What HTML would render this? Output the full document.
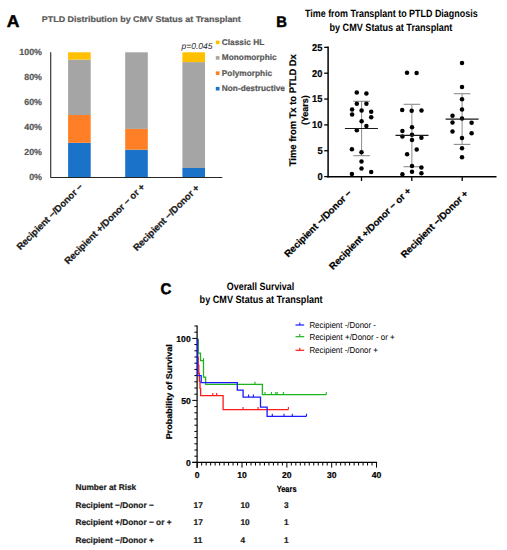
<!DOCTYPE html>
<html><head><meta charset="utf-8"><style>
html,body{margin:0;padding:0;background:#fff;}
body{width:507px;height:550px;overflow:hidden;}
svg{display:block;font-family:"Liberation Sans", sans-serif;text-rendering:geometricPrecision;}
</style></head><body>
<svg width="507" height="550" viewBox="0 0 507 550">
<rect width="507" height="550" fill="#fff"/>
<text x="6.8" y="26.9" font-size="17.0" font-weight="bold" font-style="normal" fill="#000" text-anchor="start" textLength="12.7" lengthAdjust="spacingAndGlyphs" stroke="#000" stroke-width="0.45">A</text>
<text x="41.8" y="21.7" font-size="8.4" font-weight="bold" font-style="normal" fill="#595959" text-anchor="start" textLength="199" lengthAdjust="spacingAndGlyphs" stroke="#595959" stroke-width="0.2">PTLD Distribution by CMV Status at Transplant</text>
<text x="42.0" y="180.4" font-size="8.9" font-weight="bold" font-style="normal" fill="#595959" text-anchor="end" stroke="#595959" stroke-width="0.2">0%</text>
<text x="42.0" y="155.4" font-size="8.9" font-weight="bold" font-style="normal" fill="#595959" text-anchor="end" stroke="#595959" stroke-width="0.2">20%</text>
<text x="42.0" y="130.4" font-size="8.9" font-weight="bold" font-style="normal" fill="#595959" text-anchor="end" stroke="#595959" stroke-width="0.2">40%</text>
<text x="42.0" y="105.4" font-size="8.9" font-weight="bold" font-style="normal" fill="#595959" text-anchor="end" stroke="#595959" stroke-width="0.2">60%</text>
<text x="42.0" y="80.4" font-size="8.9" font-weight="bold" font-style="normal" fill="#595959" text-anchor="end" stroke="#595959" stroke-width="0.2">80%</text>
<text x="42.0" y="55.4" font-size="8.9" font-weight="bold" font-style="normal" fill="#595959" text-anchor="end" stroke="#595959" stroke-width="0.2">100%</text>
<rect x="68.1" y="142.8" width="22.6" height="34.6" fill="#1a72c9"/>
<rect x="68.1" y="115.0" width="22.6" height="27.8" fill="#ff7f27"/>
<rect x="68.1" y="59.6" width="22.6" height="55.4" fill="#a5a5a5"/>
<rect x="68.1" y="52.3" width="22.6" height="7.3" fill="#ffc000"/>
<rect x="125.2" y="149.7" width="22.6" height="27.7" fill="#1a72c9"/>
<rect x="125.2" y="128.9" width="22.6" height="20.8" fill="#ff7f27"/>
<rect x="125.2" y="52.3" width="22.6" height="76.6" fill="#a5a5a5"/>
<rect x="182.4" y="168.0" width="22.6" height="9.4" fill="#1a72c9"/>
<rect x="182.4" y="62.1" width="22.6" height="105.9" fill="#a5a5a5"/>
<rect x="182.4" y="52.3" width="22.6" height="9.8" fill="#ffc000"/>
<line x1="50.7" y1="52.3" x2="50.7" y2="177.5" stroke="#303030" stroke-width="1.15"/>
<line x1="50.4" y1="177.5" x2="222.3" y2="177.5" stroke="#262626" stroke-width="1.2"/>
<text x="181.6" y="49.2" font-size="8.5" font-weight="normal" font-style="italic" fill="#262626" text-anchor="start" textLength="30.9" lengthAdjust="spacingAndGlyphs">p=0.045</text>
<rect x="215.8" y="40.6" width="3.7" height="3.6" fill="#ffc000"/>
<text x="221.8" y="44.9" font-size="8.3" font-weight="bold" font-style="normal" fill="#595959" text-anchor="start" stroke="#595959" stroke-width="0.2">Classic HL</text>
<rect x="215.8" y="56.1" width="3.7" height="3.6" fill="#a5a5a5"/>
<text x="221.8" y="60.4" font-size="8.3" font-weight="bold" font-style="normal" fill="#595959" text-anchor="start" stroke="#595959" stroke-width="0.2">Monomorphic</text>
<rect x="215.8" y="71.4" width="3.7" height="3.6" fill="#ff7f27"/>
<text x="221.8" y="75.7" font-size="8.3" font-weight="bold" font-style="normal" fill="#595959" text-anchor="start" stroke="#595959" stroke-width="0.2">Polymorphic</text>
<rect x="215.8" y="86.9" width="3.7" height="3.6" fill="#1a72c9"/>
<text x="221.8" y="91.2" font-size="8.3" font-weight="bold" font-style="normal" fill="#595959" text-anchor="start" stroke="#595959" stroke-width="0.2">Non-destructive</text>
<text transform="translate(83.5,187.5) rotate(-45)" x="0" y="0" font-size="9.45" font-weight="bold" fill="#1a1a1a" text-anchor="end" stroke="#1a1a1a" stroke-width="0.25">Recipient &#8722;/Donor &#8722;</text>
<text transform="translate(145.5,187.5) rotate(-45)" x="0" y="0" font-size="9.45" font-weight="bold" fill="#1a1a1a" text-anchor="end" stroke="#1a1a1a" stroke-width="0.25">Recipient +/Donor &#8722; or +</text>
<text transform="translate(200,188.5) rotate(-45)" x="0" y="0" font-size="9.45" font-weight="bold" fill="#1a1a1a" text-anchor="end" stroke="#1a1a1a" stroke-width="0.25">Recipient &#8722;/Donor +</text>
<text x="276.2" y="26.6" font-size="15.3" font-weight="bold" font-style="normal" fill="#000" text-anchor="start" textLength="10.7" lengthAdjust="spacingAndGlyphs" stroke="#000" stroke-width="0.5">B</text>
<text x="391.3" y="17.4" font-size="10.6" font-weight="bold" font-style="normal" fill="#000" text-anchor="middle" textLength="172.7" lengthAdjust="spacingAndGlyphs">Time from Transplant to PTLD Diagnosis</text>
<text x="390.9" y="30.8" font-size="10.6" font-weight="bold" font-style="normal" fill="#000" text-anchor="middle" textLength="123" lengthAdjust="spacingAndGlyphs">by CMV Status at Transplant</text>
<line x1="328.1" y1="46.6" x2="328.1" y2="177.4" stroke="#000" stroke-width="1.5"/>
<line x1="327.4" y1="176.7" x2="496.5" y2="176.7" stroke="#000" stroke-width="1.6"/>
<line x1="324.2" y1="176.6" x2="328.1" y2="176.6" stroke="#000" stroke-width="1.3"/>
<text x="322.8" y="180.0" font-size="9.9" font-weight="bold" font-style="normal" fill="#000" text-anchor="end" textLength="5.2" lengthAdjust="spacingAndGlyphs" stroke="#000" stroke-width="0.2">0</text>
<line x1="324.2" y1="150.75" x2="328.1" y2="150.75" stroke="#000" stroke-width="1.3"/>
<text x="322.8" y="154.15" font-size="9.9" font-weight="bold" font-style="normal" fill="#000" text-anchor="end" textLength="5.2" lengthAdjust="spacingAndGlyphs" stroke="#000" stroke-width="0.2">5</text>
<line x1="324.2" y1="124.9" x2="328.1" y2="124.9" stroke="#000" stroke-width="1.3"/>
<text x="322.3" y="128.3" font-size="9.9" font-weight="bold" font-style="normal" fill="#000" text-anchor="end" textLength="10.3" lengthAdjust="spacingAndGlyphs" stroke="#000" stroke-width="0.2">10</text>
<line x1="324.2" y1="99.05" x2="328.1" y2="99.05" stroke="#000" stroke-width="1.3"/>
<text x="322.3" y="102.45" font-size="9.9" font-weight="bold" font-style="normal" fill="#000" text-anchor="end" textLength="10.3" lengthAdjust="spacingAndGlyphs" stroke="#000" stroke-width="0.2">15</text>
<line x1="324.2" y1="73.2" x2="328.1" y2="73.2" stroke="#000" stroke-width="1.3"/>
<text x="322.3" y="76.6" font-size="9.9" font-weight="bold" font-style="normal" fill="#000" text-anchor="end" textLength="10.3" lengthAdjust="spacingAndGlyphs" stroke="#000" stroke-width="0.2">20</text>
<line x1="324.2" y1="47.35" x2="328.1" y2="47.35" stroke="#000" stroke-width="1.3"/>
<text x="322.3" y="50.75" font-size="9.9" font-weight="bold" font-style="normal" fill="#000" text-anchor="end" textLength="10.3" lengthAdjust="spacingAndGlyphs" stroke="#000" stroke-width="0.2">25</text>
<line x1="361.5" y1="176.7" x2="361.5" y2="181" stroke="#000" stroke-width="1.3"/>
<line x1="411.8" y1="176.7" x2="411.8" y2="181" stroke="#000" stroke-width="1.3"/>
<line x1="462.2" y1="176.7" x2="462.2" y2="181" stroke="#000" stroke-width="1.3"/>
<text transform="translate(296.3,110.2) rotate(-90)" font-size="9.6" font-weight="bold" text-anchor="middle" stroke="#000" stroke-width="0.2" textLength="112" lengthAdjust="spacingAndGlyphs">Time from Tx to PTLD Dx</text>
<text transform="translate(307.6,110.2) rotate(-90)" font-size="9.2" font-weight="bold" text-anchor="middle" stroke="#000" stroke-width="0.2" textLength="29.8" lengthAdjust="spacingAndGlyphs">(Years)</text>
<line x1="361.6" y1="101.3" x2="361.6" y2="155.7" stroke="#8c8c8c" stroke-width="1"/>
<line x1="353.3" y1="101.3" x2="369.90000000000003" y2="101.3" stroke="#8c8c8c" stroke-width="1.1"/>
<line x1="353.3" y1="155.7" x2="369.90000000000003" y2="155.7" stroke="#8c8c8c" stroke-width="1.1"/>
<line x1="411.9" y1="104.3" x2="411.9" y2="166.7" stroke="#8c8c8c" stroke-width="1"/>
<line x1="403.59999999999997" y1="104.3" x2="420.2" y2="104.3" stroke="#8c8c8c" stroke-width="1.1"/>
<line x1="403.59999999999997" y1="166.7" x2="420.2" y2="166.7" stroke="#8c8c8c" stroke-width="1.1"/>
<line x1="462.1" y1="93.7" x2="462.1" y2="144.4" stroke="#8c8c8c" stroke-width="1"/>
<line x1="453.8" y1="93.7" x2="470.40000000000003" y2="93.7" stroke="#8c8c8c" stroke-width="1.1"/>
<line x1="453.8" y1="144.4" x2="470.40000000000003" y2="144.4" stroke="#8c8c8c" stroke-width="1.1"/>
<circle cx="356.8" cy="92.6" r="2.25" fill="#000"/>
<circle cx="366.4" cy="93.6" r="2.25" fill="#000"/>
<circle cx="356.8" cy="103.8" r="2.25" fill="#000"/>
<circle cx="366.4" cy="103.8" r="2.25" fill="#000"/>
<circle cx="352.1" cy="109.4" r="2.25" fill="#000"/>
<circle cx="361.6" cy="110.4" r="2.25" fill="#000"/>
<circle cx="371.2" cy="111.8" r="2.25" fill="#000"/>
<circle cx="352.1" cy="114.5" r="2.25" fill="#000"/>
<circle cx="371.2" cy="117.3" r="2.25" fill="#000"/>
<circle cx="361.6" cy="121.3" r="2.25" fill="#000"/>
<circle cx="366.4" cy="126.1" r="2.25" fill="#000"/>
<circle cx="356.8" cy="130.3" r="2.25" fill="#000"/>
<circle cx="351.9" cy="149.3" r="2.25" fill="#000"/>
<circle cx="361.5" cy="152.2" r="2.25" fill="#000"/>
<circle cx="361.5" cy="161.4" r="2.25" fill="#000"/>
<circle cx="361.5" cy="168.5" r="2.25" fill="#000"/>
<circle cx="351.9" cy="174.1" r="2.25" fill="#000"/>
<circle cx="371.2" cy="171.9" r="2.25" fill="#000"/>
<circle cx="407" cy="72.7" r="2.25" fill="#000"/>
<circle cx="416.6" cy="73" r="2.25" fill="#000"/>
<circle cx="402.2" cy="110" r="2.25" fill="#000"/>
<circle cx="411.7" cy="110.7" r="2.25" fill="#000"/>
<circle cx="421.5" cy="110.5" r="2.25" fill="#000"/>
<circle cx="412" cy="127.3" r="2.25" fill="#000"/>
<circle cx="402.4" cy="130.9" r="2.25" fill="#000"/>
<circle cx="412" cy="134.8" r="2.25" fill="#000"/>
<circle cx="402.4" cy="136.6" r="2.25" fill="#000"/>
<circle cx="421.4" cy="137.7" r="2.25" fill="#000"/>
<circle cx="412" cy="140.1" r="2.25" fill="#000"/>
<circle cx="416.7" cy="149.6" r="2.25" fill="#000"/>
<circle cx="407.1" cy="154.3" r="2.25" fill="#000"/>
<circle cx="412" cy="165.9" r="2.25" fill="#000"/>
<circle cx="421.4" cy="167.5" r="2.25" fill="#000"/>
<circle cx="412" cy="171.8" r="2.25" fill="#000"/>
<circle cx="421.4" cy="173.2" r="2.25" fill="#000"/>
<circle cx="402.4" cy="174.2" r="2.25" fill="#000"/>
<circle cx="462" cy="63.1" r="2.25" fill="#000"/>
<circle cx="462" cy="86.9" r="2.25" fill="#000"/>
<circle cx="462" cy="99.2" r="2.25" fill="#000"/>
<circle cx="462" cy="109.5" r="2.25" fill="#000"/>
<circle cx="452.5" cy="115.8" r="2.25" fill="#000"/>
<circle cx="462" cy="118.6" r="2.25" fill="#000"/>
<circle cx="452.5" cy="122.6" r="2.25" fill="#000"/>
<circle cx="471.6" cy="122.8" r="2.25" fill="#000"/>
<circle cx="452.5" cy="131.5" r="2.25" fill="#000"/>
<circle cx="471.6" cy="133.2" r="2.25" fill="#000"/>
<circle cx="462" cy="138.1" r="2.25" fill="#000"/>
<circle cx="462" cy="148.3" r="2.25" fill="#000"/>
<circle cx="462" cy="157.2" r="2.25" fill="#000"/>
<line x1="344.9" y1="128.5" x2="377.9" y2="128.5" stroke="#1a1a1a" stroke-width="1.2"/>
<line x1="395.5" y1="135.4" x2="428.5" y2="135.4" stroke="#1a1a1a" stroke-width="1.2"/>
<line x1="445.6" y1="119.1" x2="478.6" y2="119.1" stroke="#1a1a1a" stroke-width="1.2"/>
<text transform="translate(352.3,193.7) rotate(-45)" x="0" y="0" font-size="9.6" font-weight="bold" fill="#000" text-anchor="end" stroke="#000" stroke-width="0.25">Recipient &#8722;/Donor &#8722;</text>
<text transform="translate(411.6,191.6) rotate(-45)" x="0" y="0" font-size="9.6" font-weight="bold" fill="#000" text-anchor="end" stroke="#000" stroke-width="0.25">Recipient +/Donor &#8722; or +</text>
<text transform="translate(468.8,194.3) rotate(-45)" x="0" y="0" font-size="9.6" font-weight="bold" fill="#000" text-anchor="end" stroke="#000" stroke-width="0.25">Recipient &#8722;/Donor +</text>
<text x="160.4" y="294.0" font-size="15.3" font-weight="bold" font-style="normal" fill="#000" text-anchor="start" textLength="10.9" lengthAdjust="spacingAndGlyphs" stroke="#000" stroke-width="0.5">C</text>
<text x="260.5" y="290.4" font-size="10.6" font-weight="bold" font-style="normal" fill="#000" text-anchor="middle" textLength="67.5" lengthAdjust="spacingAndGlyphs">Overall Survival</text>
<text x="261.1" y="302.8" font-size="10.6" font-weight="bold" font-style="normal" fill="#000" text-anchor="middle" textLength="123" lengthAdjust="spacingAndGlyphs">by CMV Status at Transplant</text>
<line x1="197.1" y1="325.6" x2="197.1" y2="467.9" stroke="#000" stroke-width="1.2"/>
<line x1="192.3" y1="462.4" x2="197.1" y2="462.4" stroke="#000" stroke-width="1"/>
<line x1="194.4" y1="456.2" x2="197.1" y2="456.2" stroke="#000" stroke-width="1"/>
<line x1="194.4" y1="450.0" x2="197.1" y2="450.0" stroke="#000" stroke-width="1"/>
<line x1="194.4" y1="443.8" x2="197.1" y2="443.8" stroke="#000" stroke-width="1"/>
<line x1="194.4" y1="437.6" x2="197.1" y2="437.6" stroke="#000" stroke-width="1"/>
<line x1="194.4" y1="431.4" x2="197.1" y2="431.4" stroke="#000" stroke-width="1"/>
<line x1="194.4" y1="425.2" x2="197.1" y2="425.2" stroke="#000" stroke-width="1"/>
<line x1="194.4" y1="419.0" x2="197.1" y2="419.0" stroke="#000" stroke-width="1"/>
<line x1="194.4" y1="412.8" x2="197.1" y2="412.8" stroke="#000" stroke-width="1"/>
<line x1="194.4" y1="406.6" x2="197.1" y2="406.6" stroke="#000" stroke-width="1"/>
<line x1="192.3" y1="400.4" x2="197.1" y2="400.4" stroke="#000" stroke-width="1"/>
<line x1="194.4" y1="394.2" x2="197.1" y2="394.2" stroke="#000" stroke-width="1"/>
<line x1="194.4" y1="388.0" x2="197.1" y2="388.0" stroke="#000" stroke-width="1"/>
<line x1="194.4" y1="381.8" x2="197.1" y2="381.8" stroke="#000" stroke-width="1"/>
<line x1="194.4" y1="375.6" x2="197.1" y2="375.6" stroke="#000" stroke-width="1"/>
<line x1="194.4" y1="369.4" x2="197.1" y2="369.4" stroke="#000" stroke-width="1"/>
<line x1="194.4" y1="363.2" x2="197.1" y2="363.2" stroke="#000" stroke-width="1"/>
<line x1="194.4" y1="357.0" x2="197.1" y2="357.0" stroke="#000" stroke-width="1"/>
<line x1="194.4" y1="350.8" x2="197.1" y2="350.8" stroke="#000" stroke-width="1"/>
<line x1="194.4" y1="344.6" x2="197.1" y2="344.6" stroke="#000" stroke-width="1"/>
<line x1="192.3" y1="338.4" x2="197.1" y2="338.4" stroke="#000" stroke-width="1"/>
<line x1="194.4" y1="332.2" x2="197.1" y2="332.2" stroke="#000" stroke-width="1"/>
<line x1="194.4" y1="326.0" x2="197.1" y2="326.0" stroke="#000" stroke-width="1"/>
<text x="190.7" y="465.6" font-size="8.6" font-weight="bold" font-style="normal" fill="#000" text-anchor="end" stroke="#000" stroke-width="0.2">0</text>
<text x="190.7" y="403.6" font-size="8.6" font-weight="bold" font-style="normal" fill="#000" text-anchor="end" stroke="#000" stroke-width="0.2">50</text>
<text x="190.7" y="341.6" font-size="8.6" font-weight="bold" font-style="normal" fill="#000" text-anchor="end" stroke="#000" stroke-width="0.2">100</text>
<line x1="192.3" y1="462.4" x2="377.1" y2="462.4" stroke="#000" stroke-width="1.2"/>
<line x1="197.2" y1="462.4" x2="197.2" y2="467.6" stroke="#000" stroke-width="1"/>
<line x1="201.68" y1="462.4" x2="201.68" y2="465.5" stroke="#000" stroke-width="1"/>
<line x1="206.17" y1="462.4" x2="206.17" y2="465.5" stroke="#000" stroke-width="1"/>
<line x1="210.65" y1="462.4" x2="210.65" y2="465.5" stroke="#000" stroke-width="1"/>
<line x1="215.13" y1="462.4" x2="215.13" y2="465.5" stroke="#000" stroke-width="1"/>
<line x1="219.61" y1="462.4" x2="219.61" y2="465.5" stroke="#000" stroke-width="1"/>
<line x1="224.1" y1="462.4" x2="224.1" y2="465.5" stroke="#000" stroke-width="1"/>
<line x1="228.58" y1="462.4" x2="228.58" y2="465.5" stroke="#000" stroke-width="1"/>
<line x1="233.06" y1="462.4" x2="233.06" y2="465.5" stroke="#000" stroke-width="1"/>
<line x1="237.55" y1="462.4" x2="237.55" y2="465.5" stroke="#000" stroke-width="1"/>
<line x1="242.03" y1="462.4" x2="242.03" y2="467.6" stroke="#000" stroke-width="1"/>
<line x1="246.51" y1="462.4" x2="246.51" y2="465.5" stroke="#000" stroke-width="1"/>
<line x1="251.0" y1="462.4" x2="251.0" y2="465.5" stroke="#000" stroke-width="1"/>
<line x1="255.48" y1="462.4" x2="255.48" y2="465.5" stroke="#000" stroke-width="1"/>
<line x1="259.96" y1="462.4" x2="259.96" y2="465.5" stroke="#000" stroke-width="1"/>
<line x1="264.44" y1="462.4" x2="264.44" y2="465.5" stroke="#000" stroke-width="1"/>
<line x1="268.93" y1="462.4" x2="268.93" y2="465.5" stroke="#000" stroke-width="1"/>
<line x1="273.41" y1="462.4" x2="273.41" y2="465.5" stroke="#000" stroke-width="1"/>
<line x1="277.89" y1="462.4" x2="277.89" y2="465.5" stroke="#000" stroke-width="1"/>
<line x1="282.38" y1="462.4" x2="282.38" y2="465.5" stroke="#000" stroke-width="1"/>
<line x1="286.86" y1="462.4" x2="286.86" y2="467.6" stroke="#000" stroke-width="1"/>
<line x1="291.34" y1="462.4" x2="291.34" y2="465.5" stroke="#000" stroke-width="1"/>
<line x1="295.83" y1="462.4" x2="295.83" y2="465.5" stroke="#000" stroke-width="1"/>
<line x1="300.31" y1="462.4" x2="300.31" y2="465.5" stroke="#000" stroke-width="1"/>
<line x1="304.79" y1="462.4" x2="304.79" y2="465.5" stroke="#000" stroke-width="1"/>
<line x1="309.27" y1="462.4" x2="309.27" y2="465.5" stroke="#000" stroke-width="1"/>
<line x1="313.76" y1="462.4" x2="313.76" y2="465.5" stroke="#000" stroke-width="1"/>
<line x1="318.24" y1="462.4" x2="318.24" y2="465.5" stroke="#000" stroke-width="1"/>
<line x1="322.72" y1="462.4" x2="322.72" y2="465.5" stroke="#000" stroke-width="1"/>
<line x1="327.21" y1="462.4" x2="327.21" y2="465.5" stroke="#000" stroke-width="1"/>
<line x1="331.69" y1="462.4" x2="331.69" y2="467.6" stroke="#000" stroke-width="1"/>
<line x1="336.17" y1="462.4" x2="336.17" y2="465.5" stroke="#000" stroke-width="1"/>
<line x1="340.66" y1="462.4" x2="340.66" y2="465.5" stroke="#000" stroke-width="1"/>
<line x1="345.14" y1="462.4" x2="345.14" y2="465.5" stroke="#000" stroke-width="1"/>
<line x1="349.62" y1="462.4" x2="349.62" y2="465.5" stroke="#000" stroke-width="1"/>
<line x1="354.11" y1="462.4" x2="354.11" y2="465.5" stroke="#000" stroke-width="1"/>
<line x1="358.59" y1="462.4" x2="358.59" y2="465.5" stroke="#000" stroke-width="1"/>
<line x1="363.07" y1="462.4" x2="363.07" y2="465.5" stroke="#000" stroke-width="1"/>
<line x1="367.55" y1="462.4" x2="367.55" y2="465.5" stroke="#000" stroke-width="1"/>
<line x1="372.04" y1="462.4" x2="372.04" y2="465.5" stroke="#000" stroke-width="1"/>
<line x1="376.52" y1="462.4" x2="376.52" y2="467.6" stroke="#000" stroke-width="1"/>
<text x="197.2" y="478.1" font-size="8.6" font-weight="bold" font-style="normal" fill="#000" text-anchor="middle" stroke="#000" stroke-width="0.2">0</text>
<text x="242.03" y="478.1" font-size="8.6" font-weight="bold" font-style="normal" fill="#000" text-anchor="middle" stroke="#000" stroke-width="0.2">10</text>
<text x="286.86" y="478.1" font-size="8.6" font-weight="bold" font-style="normal" fill="#000" text-anchor="middle" stroke="#000" stroke-width="0.2">20</text>
<text x="331.69" y="478.1" font-size="8.6" font-weight="bold" font-style="normal" fill="#000" text-anchor="middle" stroke="#000" stroke-width="0.2">30</text>
<text x="376.52" y="478.1" font-size="8.6" font-weight="bold" font-style="normal" fill="#000" text-anchor="middle" stroke="#000" stroke-width="0.2">40</text>
<text x="286.6" y="492.1" font-size="8.9" font-weight="bold" font-style="normal" fill="#000" text-anchor="middle" textLength="19.9" lengthAdjust="spacingAndGlyphs" stroke="#000" stroke-width="0.2">Years</text>
<text transform="translate(172,391.8) rotate(-90)" font-size="8.4" font-weight="bold" text-anchor="middle" stroke="#000" stroke-width="0.2" textLength="95" lengthAdjust="spacingAndGlyphs">Probability of Survival</text>
<g transform="translate(0,0.4)">
<path d="M197.6 338.5 V357 H198.2 V365 H198.8 V373 H199.4 V381 H200 V388 H200.6 V395.2 H223.1 V409.2 H288.4" fill="none" stroke="#ff1a1a" stroke-width="1.3" stroke-linejoin="miter" stroke-linecap="butt"/>
<line x1="212.8" y1="395.2" x2="212.8" y2="392.59999999999997" stroke="#ff1a1a" stroke-width="1.1"/>
<line x1="216.6" y1="395.2" x2="216.6" y2="392.59999999999997" stroke="#ff1a1a" stroke-width="1.1"/>
<line x1="243.1" y1="409.2" x2="243.1" y2="406.59999999999997" stroke="#ff1a1a" stroke-width="1.1"/>
<line x1="258.1" y1="409.2" x2="258.1" y2="406.59999999999997" stroke="#ff1a1a" stroke-width="1.1"/>
<line x1="288.4" y1="409.2" x2="288.4" y2="406.59999999999997" stroke="#ff1a1a" stroke-width="1.1"/>
<path d="M198.2 338.3 V352.7 H200.5 V360.3 H203.5 V376.7 H205.6 V383.9 H262.4 V394.2 H326.3" fill="none" stroke="#1db31d" stroke-width="1.3" stroke-linejoin="miter" stroke-linecap="butt"/>
<line x1="203.5" y1="360.3" x2="203.5" y2="357.7" stroke="#1db31d" stroke-width="1.1"/>
<line x1="255" y1="383.9" x2="255" y2="381.29999999999995" stroke="#1db31d" stroke-width="1.1"/>
<line x1="265" y1="394.2" x2="265" y2="391.59999999999997" stroke="#1db31d" stroke-width="1.1"/>
<line x1="271.4" y1="394.2" x2="271.4" y2="391.59999999999997" stroke="#1db31d" stroke-width="1.1"/>
<line x1="275.8" y1="394.2" x2="275.8" y2="391.59999999999997" stroke="#1db31d" stroke-width="1.1"/>
<line x1="277.2" y1="394.2" x2="277.2" y2="391.59999999999997" stroke="#1db31d" stroke-width="1.1"/>
<line x1="283.4" y1="394.2" x2="283.4" y2="391.59999999999997" stroke="#1db31d" stroke-width="1.1"/>
<line x1="326.3" y1="394.2" x2="326.3" y2="391.59999999999997" stroke="#1db31d" stroke-width="1.1"/>
<path d="M197.6 338.3 V375.3 H201.2 V382.3 H237.3 V389.7 H243.1 V396.8 H260.5 V406.8 H267.1 V415.9 H306.5" fill="none" stroke="#1a1aff" stroke-width="1.3" stroke-linejoin="miter" stroke-linecap="butt"/>
<line x1="248.6" y1="396.8" x2="248.6" y2="394.2" stroke="#1a1aff" stroke-width="1.1"/>
<line x1="253.4" y1="396.8" x2="253.4" y2="394.2" stroke="#1a1aff" stroke-width="1.1"/>
<line x1="272.3" y1="415.9" x2="272.3" y2="413.29999999999995" stroke="#1a1aff" stroke-width="1.1"/>
<line x1="284" y1="415.9" x2="284" y2="413.29999999999995" stroke="#1a1aff" stroke-width="1.1"/>
<line x1="292.3" y1="415.9" x2="292.3" y2="413.29999999999995" stroke="#1a1aff" stroke-width="1.1"/>
<line x1="306.5" y1="415.9" x2="306.5" y2="413.29999999999995" stroke="#1a1aff" stroke-width="1.1"/>
</g>
<line x1="295.5" y1="325" x2="304.2" y2="325" stroke="#1a1aff" stroke-width="1.2"/>
<line x1="299.8" y1="325" x2="299.8" y2="322.4" stroke="#1a1aff" stroke-width="1.1"/>
<text x="309.4" y="327.8" font-size="8.7" font-weight="normal" font-style="normal" fill="#000" text-anchor="start" textLength="66.6" lengthAdjust="spacingAndGlyphs">Recipient -/Donor -</text>
<line x1="295.5" y1="336.7" x2="304.2" y2="336.7" stroke="#1db31d" stroke-width="1.2"/>
<line x1="299.8" y1="336.7" x2="299.8" y2="334.09999999999997" stroke="#1db31d" stroke-width="1.1"/>
<text x="309.4" y="339.5" font-size="8.7" font-weight="normal" font-style="normal" fill="#000" text-anchor="start" textLength="85.4" lengthAdjust="spacingAndGlyphs">Recipient +/Donor - or +</text>
<line x1="295.5" y1="350.3" x2="304.2" y2="350.3" stroke="#ff1a1a" stroke-width="1.2"/>
<line x1="299.8" y1="350.3" x2="299.8" y2="347.7" stroke="#ff1a1a" stroke-width="1.1"/>
<text x="309.4" y="353.0" font-size="8.7" font-weight="normal" font-style="normal" fill="#000" text-anchor="start" textLength="68.6" lengthAdjust="spacingAndGlyphs">Recipient -/Donor +</text>
<text x="75.4" y="489.9" font-size="8.3" font-weight="bold" font-style="normal" fill="#1a1a1a" text-anchor="start" textLength="60.8" lengthAdjust="spacingAndGlyphs" stroke="#1a1a1a" stroke-width="0.2">Number at Risk</text>
<text x="75.4" y="507.7" font-size="8.3" font-weight="bold" font-style="normal" fill="#1a1a1a" text-anchor="start" stroke="#1a1a1a" stroke-width="0.2">Recipient &#8722;/Donor &#8722;</text>
<text x="193.6" y="507.7" font-size="8.3" font-weight="bold" font-style="normal" fill="#1a1a1a" text-anchor="start" stroke="#1a1a1a" stroke-width="0.2">17</text>
<text x="240.5" y="507.7" font-size="8.3" font-weight="bold" font-style="normal" fill="#1a1a1a" text-anchor="start" stroke="#1a1a1a" stroke-width="0.2">10</text>
<text x="284.0" y="507.7" font-size="8.3" font-weight="bold" font-style="normal" fill="#1a1a1a" text-anchor="start" stroke="#1a1a1a" stroke-width="0.2">3</text>
<text x="75.4" y="525.4" font-size="8.3" font-weight="bold" font-style="normal" fill="#1a1a1a" text-anchor="start" stroke="#1a1a1a" stroke-width="0.2">Recipient +/Donor &#8722; or +</text>
<text x="193.6" y="525.4" font-size="8.3" font-weight="bold" font-style="normal" fill="#1a1a1a" text-anchor="start" stroke="#1a1a1a" stroke-width="0.2">17</text>
<text x="240.5" y="525.4" font-size="8.3" font-weight="bold" font-style="normal" fill="#1a1a1a" text-anchor="start" stroke="#1a1a1a" stroke-width="0.2">10</text>
<text x="284.0" y="525.4" font-size="8.3" font-weight="bold" font-style="normal" fill="#1a1a1a" text-anchor="start" stroke="#1a1a1a" stroke-width="0.2">1</text>
<text x="75.4" y="543.2" font-size="8.3" font-weight="bold" font-style="normal" fill="#1a1a1a" text-anchor="start" stroke="#1a1a1a" stroke-width="0.2">Recipient &#8722;/Donor +</text>
<text x="193.6" y="543.2" font-size="8.3" font-weight="bold" font-style="normal" fill="#1a1a1a" text-anchor="start" stroke="#1a1a1a" stroke-width="0.2">11</text>
<text x="240.5" y="543.2" font-size="8.3" font-weight="bold" font-style="normal" fill="#1a1a1a" text-anchor="start" stroke="#1a1a1a" stroke-width="0.2">4</text>
<text x="284.0" y="543.2" font-size="8.3" font-weight="bold" font-style="normal" fill="#1a1a1a" text-anchor="start" stroke="#1a1a1a" stroke-width="0.2">1</text>
</svg>
</body></html>
